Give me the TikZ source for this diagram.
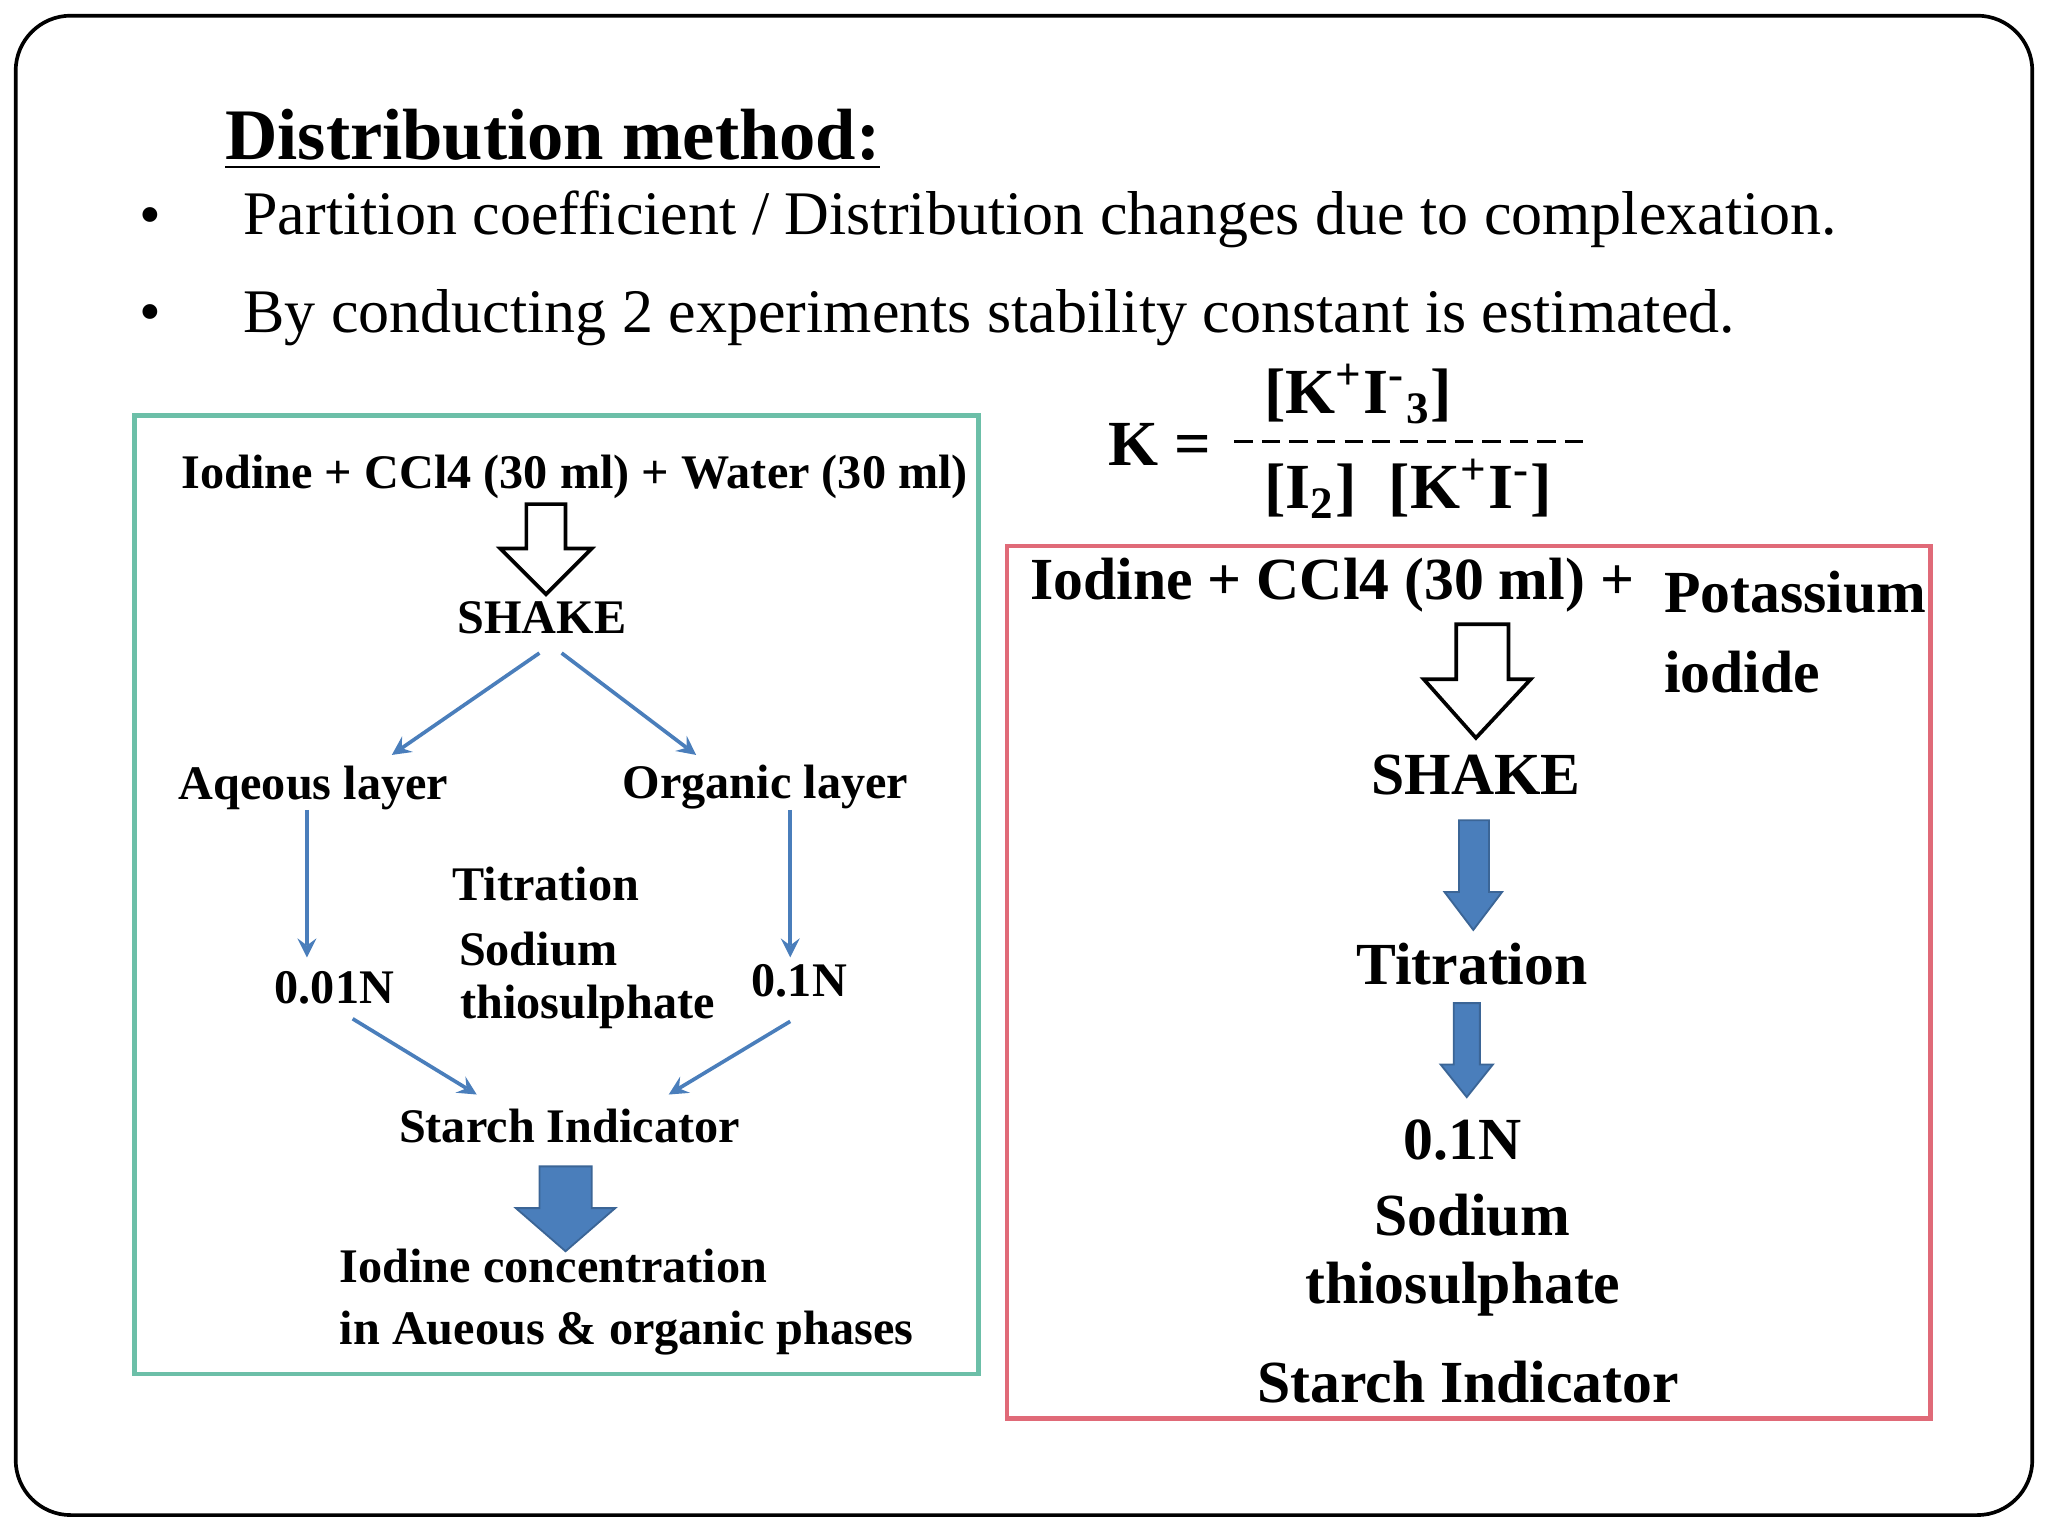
\documentclass[tikz,border=0pt]{standalone}
\usepackage{fontspec}
\setmainfont{Liberation Serif}
\definecolor{gbox}{HTML}{6CBFA8}
\definecolor{rbox}{HTML}{E06A78}
\definecolor{ablue}{HTML}{4A7EBB}
\begin{document}
\begin{tikzpicture}[x=0.01cm,y=-0.01cm,
  lt/.style={font=\fontsize{10.5}{12.5}\selectfont\bfseries,inner sep=1pt},
  rt/.style={font=\fontsize{13}{15.5}\selectfont\bfseries,inner sep=1pt},
  thin/.style={ablue,line width=0.8pt,-stealth},
  hollow/.style={draw=black,fill=white,line width=0.8pt},
  solid/.style={fill=ablue,draw=ablue!80!black}]
\useasboundingbox (0,0) rectangle (1568,1176);
\draw[line width=0.8pt,rounded corners=12pt] (12,12) rectangle (1556,1160);
\node[font=\fontsize{15.8}{18}\selectfont\bfseries,anchor=west] (title) at (160,107) {\underline{Distribution method:}};
\node[font=\fontsize{13.5}{16}\selectfont] (b1) at (115,170) {•};
\node[font=\fontsize{13.5}{16}\selectfont,anchor=west] (t1) at (174,168) {Partition coefficient / Distribution changes due to complexation.};
\node[font=\fontsize{13.5}{16}\selectfont] (b2) at (115,244) {•};
\node[font=\fontsize{13.5}{16}\selectfont,anchor=west] (t2) at (174,243) {By conducting 2 experiments stability constant is estimated.};
% left box
\draw[gbox,line width=1pt] (103,318) rectangle (749,1052);
\node[lt] (l0) at (440,365) {Iodine + CCl4 (30 ml) + Water (30 ml)};
\draw[hollow] (403,386)--(433,386)--(433,420)--(453,420)--(418,455)--(383,420)--(403,420)--cycle;
\node[lt] (ls) at (415,473) {SHAKE};
\node[lt] (la) at (240,603) {Aqeous layer};
\node[lt] (lo) at (586,603) {Organic layer};
\draw[thin] (413,500)--(300,578);
\draw[thin] (430,500)--(533,578);
\node[lt] (lt1) at (418,677) {Titration};
\node[lt] (lt2) at (412,727) {Sodium};
\node[lt] (lt3) at (450,771) {thiosulphate};
\node[lt] (l001) at (256,756) {0.01N};
\node[lt] (l01) at (612,751) {0.1N};
\draw[thin] (235,620)--(235,733);
\draw[thin] (605,620)--(605,733);
\draw[thin] (270,780)--(365,838);
\draw[thin] (605,782)--(512,838);
\node[lt] (lsi) at (436,862) {Starch Indicator};
\draw[solid] (413,893)--(453,893)--(453,925)--(471,925)--(433,958)--(395,925)--(413,925)--cycle;
\node[lt,anchor=west,align=left] (lic) at (256,997) {Iodine concentration\\[1pt]in Aueous \& organic phases};
% formula
\node[font=\fontsize{14}{16}\selectfont\bfseries] (K) at (888,340) {K =};
\node[font=\fontsize{14}{16}\selectfont\bfseries] (num) at (1040,302) {[K\textsuperscript{+}I\textsuperscript{-}\textsubscript{3}]};
\draw[dash pattern=on 4pt off 2pt,line width=0.7pt] (945,338)--(1215,338);
\node[font=\fontsize{14}{16}\selectfont\bfseries] (den) at (1078,374) {[I\textsubscript{2}]\ \ [K\textsuperscript{+}I\textsuperscript{-}]};
% right box
\draw[rbox,line width=1pt] (771,418) rectangle (1478,1086);
\node[rt] (r0) at (1020,448) {Iodine + CCl4 (30 ml) +};
\node[rt,anchor=west,align=left] (rk) at (1270,484) {Potassium\\[2pt]iodide};
\draw[hollow] (1115,478)--(1155,478)--(1155,520)--(1172,520)--(1130,565)--(1090,520)--(1115,520)--cycle;
\node[rt] (rs) at (1130,593) {SHAKE};
\draw[solid] (1117,628)--(1140,628)--(1140,683)--(1150,683)--(1128,712)--(1106,683)--(1117,683)--cycle;
\node[rt] (rt1) at (1127,738) {Titration};
\draw[solid] (1113,768)--(1133,768)--(1133,815)--(1143,815)--(1123,840)--(1103,815)--(1113,815)--cycle;
\node[rt] (r01) at (1120,873) {0.1N};
\node[rt] (rso) at (1127,930) {Sodium};
\node[rt] (rth) at (1120,987) {thiosulphate};
\node[rt] (rsi) at (1124,1058) {Starch Indicator};
\end{tikzpicture}
\end{document}
